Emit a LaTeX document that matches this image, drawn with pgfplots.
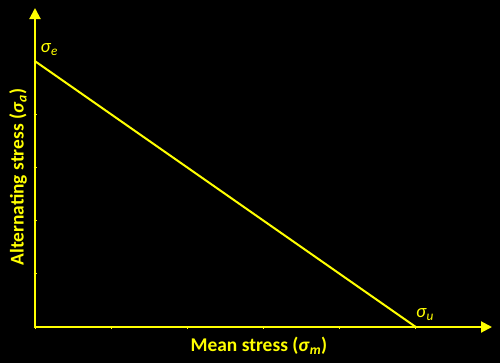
\documentclass[border=0pt]{standalone}
\usepackage{pgfplots}
\pgfplotsset{compat=1.18}
\usetikzlibrary{arrows.meta}
\usepackage{fontspec}
\setmainfont{Carlito}
\definecolor{yel}{RGB}{255,255,0}
\begin{document}
\begin{tikzpicture}[x=1bp,y=1bp]
\fill[black] (0,0) rectangle (500,363);
\begin{axis}[
  at={(35bp,36bp)}, anchor=origin,
  scale only axis, width=457bp, height=319bp,
  xmin=0, xmax=6, ymin=0, ymax=6,
  axis lines=left,
  axis line style={yel, line width=2bp, -{Triangle[length=11bp,width=11bp]}},
  xtick={0,1,2,3,4,5}, ytick={0,1,2,3,4,5},
  xticklabels={}, yticklabels={},
  tick style={yel, line width=1bp},
  major tick length=3bp, tick align=center,
  xlabel={Mean stress (\textit{σ}\textsubscript{\textit{m}})},
  ylabel={Alternating stress (\textit{σ}\textsubscript{\textit{a}})},
  label style={text=yel, font=\fontsize{19.5}{22}\selectfont\bfseries},
  xlabel style={at={(rel axis cs:0.49,0)}, yshift=-19bp, anchor=center},
  ylabel style={at={(rel axis cs:0,0.47)}, yshift=17bp, anchor=center},
  clip=false,
]
\addplot[yel, line width=2bp] coordinates {(0,5) (5,0)};
\node[text=yel, anchor=south west, font=\fontsize{19}{21}\selectfont, inner sep=0pt] at (axis cs:0.07,5.1) {\textit{σ}\textsubscript{\textit{e}}};
\node[text=yel, anchor=south west, font=\fontsize{19}{21}\selectfont, inner sep=0pt] at (axis cs:5.0,0.12) {\textit{σ}\textsubscript{\textit{u}}};
\end{axis}
\end{tikzpicture}
\end{document}
